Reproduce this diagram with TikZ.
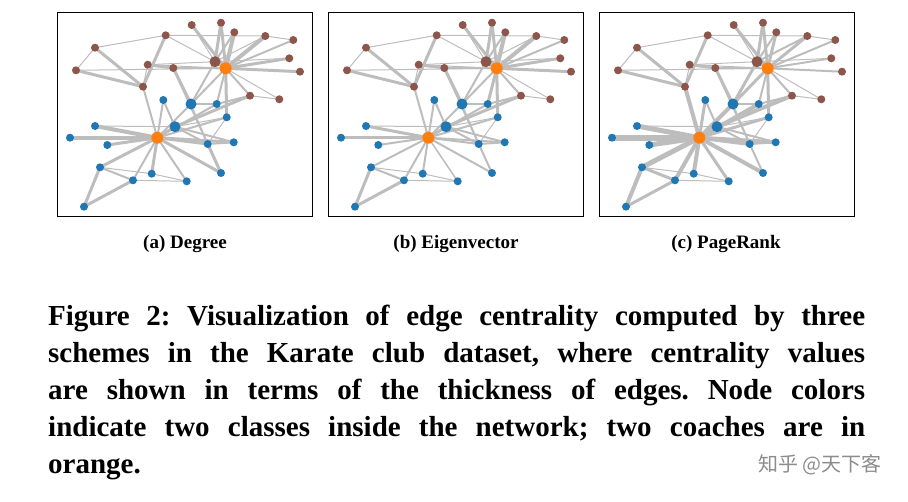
\documentclass[tikz,border=0pt]{standalone}
\usepackage{fontspec}
\setmainfont{Liberation Serif}
\newfontfamily\cjk{Noto Sans CJK SC}
\frenchspacing
\definecolor{cbrown}{HTML}{8C564B}
\definecolor{cblue}{HTML}{1F77B4}
\definecolor{corange}{HTML}{FF7F0E}
\definecolor{cedge}{HTML}{BDBDBD}
\tikzset{
 nd/.style={circle,inner sep=0pt,minimum size=8pt},
 br/.style={nd,fill=cbrown},
 bl/.style={nd,fill=cblue},
 big/.style={minimum size=11pt},
 co/.style={nd,fill=corange,minimum size=12pt},
 ed/.style={draw=cedge,line cap=round},
 frame/.style={draw,line width=1pt},
 sub/.style={font=\bfseries\fontsize{19}{22}\selectfont,anchor=base},
 captext/.style={font=\bfseries\fontsize{29}{30}\selectfont,anchor=base west,inner sep=0pt}
}
\def\edgelist{O2/u6/4/3/5, O2/u7/4/3/6, O2/u8/3/2/5, O2/u11/3/2/5, O2/u12/3/2/4, O2/u13/2/2/4, O2/u14/2/1.5/3, O2/u15/3/2/4, O2/u5/3/3/4, O2/u2/2/2/4, O2/u1/2/2/3, O2/u9/3/2/4, O2/u10/3/2/4, O2/u3/2/2/4, O2/u4/2/2/3, O2/b14/2/2/4,
O1/b1/3/3/3, O1/b2/3/3/3, O1/b3/4/4/3, O1/b4/4/4/3, O1/b5/2/2/2, O1/b12/3/3/2, O1/b13/3/3/2, O1/b15/2/2/2, O1/b16/1/1/1, O1/b10/2/2/2, O1/b9/1/1/1, O1/b11/3/4/3, O1/u2/2/2/3, O1/u3/2/3/2, O1/u4/3/3/3, O1/b8/1/1/1,
b11/b1/1/1/1, b11/b2/3/3/3, b11/b3/2/2/2, b11/b4/1/1/2, b11/b12/1/1/1, b11/b9/1/1/1, b11/b6/1/1/1, b11/u2/2/2/3,
b7/b6/1/1/1, b7/b8/1/1/1, b7/b14/3/3/3, b8/b14/3/3/3, b6/b14/3/3/3, b6/b4/1/1/1, b9/b14/1/1/1, b9/b10/3/3/3, b10/u2/3/3/3, b10/u9/2/2/2, b4/b5/1/1/1, b15/u5/3/3/4, b15/u3/2/2/2, b15/b16/1/1/1, b15/O1/1/1/1,
u5/u9/2/2/2, u5/u10/2/2/2, u5/u4/1/1/1, u2/u3/2/2/2, u2/u9/1/1/1, u4/u9/1/1/1, u1/u5/2/2/2, u9/u10/2/2/2, u9/u15/3/2/2,
u11/u13/2/2/3, u11/u12/1/1/1, u11/u16/3/3/4, u13/u16/3/3/3, u13/u14/1/1/1, u12/u14/1/1/1, u6/u5/1/1/1}
\begin{document}
\begin{tikzpicture}[x=1pt,y=-1pt]
\useasboundingbox (0,0) rectangle (908,501);
\foreach \dx/\pn [count=\k] in {0/a,271/b,542/c}{
\begin{scope}[xshift=\dx pt]
 \draw[frame] (57.7,12.7) rectangle (312.7,216);
 \foreach \n/\x/\y in {b1/191.7/25, b2/221/22.7, b3/234.3/32.3, b4/265.3/36, b5/293.3/40, b6/165.7/35.3, b7/95/47.7, b8/76/70.3, b9/147.7/64.7, b10/173.3/68, b11/215/61.7, b12/289.3/58.3, b13/300/71.7, b14/143/86.7, b15/250/95.7, b16/279.3/99.3, O1/225.7/68.3, u1/163.3/100, u2/191/104, u3/216.7/104, u4/226.7/117.3, u5/175/126.7, O2/157.3/137.7, u6/95/126, u7/70/137.7, u8/107.3/145, u9/207.7/144, u10/233.7/142.3, u11/100/167.3, u12/151.7/173.7, u13/133/180.3, u14/186.7/181.3, u15/221/173, u16/84/206.7}
   \coordinate (\pn-\n) at (\x,\y);
 \foreach \s/\t/\wa/\wb/\wc in \edgelist {
   \ifcase\k\or \def\w{\wa}\or \def\w{\wb}\or \def\w{\wc}\fi
   \draw[ed,line width=\w pt] (\pn-\s) -- (\pn-\t);
 }
 \foreach \n in {b1,b2,b3,b4,b5,b6,b7,b8,b9,b10,b12,b13,b14,b15,b16} \node[br] at (\pn-\n) {};
 \node[br,big] at (\pn-b11) {};
 \foreach \n in {u1,u3,u4,u6,u7,u8,u9,u10,u11,u12,u13,u14,u15,u16} \node[bl] at (\pn-\n) {};
 \node[bl,big] at (\pn-u2) {};
 \node[bl,big] at (\pn-u5) {};
 \node[co] at (\pn-O1) {};
 \node[co] at (\pn-O2) {};
\end{scope}}
\node[sub] (la) at (185,248) {(a) Degree};
\node[sub] (lb) at (456,248) {(b) Eigenvector};
\node[sub] (lc) at (726,248) {(c) PageRank};
\node[captext] (c1) at (48,325) {\makebox[817pt][s]{Figure 2: Visualization of edge centrality computed by three}};
\node[captext] (c2) at (48,362) {\makebox[817pt][s]{schemes in the Karate club dataset, where centrality values}};
\node[captext] (c3) at (48,399) {\makebox[817pt][s]{are shown in terms of the thickness of edges. Node colors}};
\node[captext] (c4) at (48,436) {\makebox[817pt][s]{indicate two classes inside the network; two coaches are in}};
\node[captext] (c5) at (48,473) {orange.};
\node[font=\cjk\fontsize{20}{24}\selectfont,text=black!45,anchor=base east] (wm) at (885,471) {知乎 @天下客};
\end{tikzpicture}
\end{document}
